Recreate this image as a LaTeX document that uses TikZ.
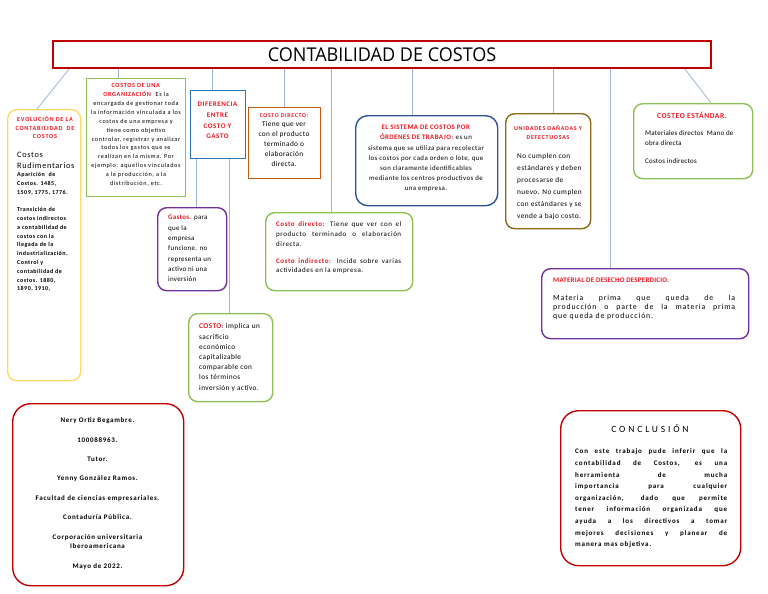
\documentclass[tikz,border=0pt]{standalone}
\usepackage{fontspec}
\setmainfont{Carlito}
\newfontfamily\titlefont[FakeStretch=0.95]{Open Sans}
\definecolor{ygold}{HTML}{FFD966}
\definecolor{lgreen}{HTML}{8DC153}
\definecolor{dblue}{HTML}{2E75B6}
\definecolor{borange}{HTML}{C55A11}
\definecolor{vpurple}{HTML}{7030A0}
\definecolor{sysblue}{HTML}{2F5496}
\definecolor{gbrown}{HTML}{8C6A1A}
\definecolor{dred}{HTML}{C00000}
\definecolor{linkc}{HTML}{9DB3D9}
\definecolor{tred}{HTML}{F0141E}
\newcommand{\J}[2]{\makebox[#1pt][s]{#2}}
\newcommand{\R}[1]{\textcolor{tred}{\textbf{#1}}}
\newcommand{\fs}[2]{\fontsize{#1}{#2}\selectfont}
\newcommand{\ls}[1]{\addfontfeature{LetterSpace=#1}}
\begin{document}
\begin{tikzpicture}[x=1pt,y=-1pt,
 link/.style={draw=linkc,line width=0.8pt},
 bx/.style={draw,anchor=north west,inner sep=0pt,line width=1.4pt},
 rbx/.style={bx,rounded corners=9pt},
 tl/.style={inner sep=0pt,anchor=north west,align=left},
 tc/.style={inner sep=0pt,anchor=north,align=center}]
\useasboundingbox (0,0) rectangle (768,594);
% boxes
\node[bx,draw=dred,line width=2.2pt,minimum width=658pt,minimum height=27pt,font=\titlefont\fontsize{19}{22}\selectfont] (title) at (52,40) {CONTABILIDAD DE COSTOS};
\node[rbx,draw=ygold,minimum width=73pt,minimum height=271pt] (evo) at (7,109) {};
\node[bx,draw=lgreen,minimum width=99pt,minimum height=118pt] (org) at (86,78) {};
\node[bx,draw=dblue,minimum width=55pt,minimum height=68pt] (dif) at (190,90) {};
\node[bx,draw=borange,minimum width=72pt,minimum height=71pt] (cdir) at (248,107) {};
\node[rbx,draw=vpurple,minimum width=69pt,minimum height=83pt] (gas) at (157,207) {};
\node[rbx,draw=lgreen,minimum width=84pt,minimum height=88pt] (cos) at (188,313) {};
\node[rbx,draw=lgreen,minimum width=147pt,minimum height=78pt] (cdi) at (265,212) {};
\node[rbx,draw=sysblue,rounded corners=12pt,minimum width=142pt,minimum height=90pt] (sis) at (355,115) {};
\node[rbx,draw=gbrown,minimum width=85pt,minimum height=115pt] (uni) at (505,113) {};
\node[rbx,draw=lgreen,minimum width=119pt,minimum height=75pt] (std) at (633,103) {};
\node[rbx,draw=vpurple,minimum width=207pt,minimum height=70pt] (mat) at (541,268) {};
\node[rbx,draw=dred,rounded corners=18pt,minimum width=171pt,minimum height=182pt] (nery) at (12,403) {};
\node[rbx,draw=dred,rounded corners=18pt,minimum width=180pt,minimum height=155pt] (conc) at (560,410) {};
% connectors
\draw[link] (title.south -| 69,0) -- (evo.north -| 37,0);
\draw[link] (title.south -| 118,0) -- (org.north -| 118,0);
\draw[link] (title.south -| 212,0) -- (dif.north -| 212,0);
\draw[link] (title.south -| 284,0) -- (cdir.north -| 284,0);
\draw[link] (title.south -| 331,0) -- (cdi.north -| 331,0);
\draw[link] (title.south -| 412,0) -- (sis.north -| 412,0);
\draw[link] (title.south -| 553,0) -- (uni.north -| 553,0);
\draw[link] (title.south -| 610,0) -- (mat.north -| 610,0);
\draw[link] (title.south -| 685,0) -- (std.north -| 711,0);
\draw[link] (dif.south -| 196,0) -- (gas.north -| 196,0);
\draw[link] (dif.south -| 229,0) -- (cos.north -| 229,0);
% texts
\node[tc,font=\fs{6.2}{8.6}\ls{12}\bfseries,text=tred] (evoh) at (45,115.4) {\strut EVOLUCIÓN DE LA\\CONTABILIDAD\ \ DE\\COSTOS};
\node[tl,font=\fs{8.3}{11}\ls{8}] (evoa) at (17,149.2) {\strut Costos\\Rudimentarios};
\node[tl,font=\fs{6}{8.8}\ls{8}\bfseries] (evob) at (17,170.2) {\strut Aparición\ \ de\\Costos. 1485,\\1509, 1775, 1776.\\[8.8pt]Transición de\\costos indirectos\\a contabilidad de\\costos con la\\llegada de la\\industrialización.\\Control y\\contabilidad de\\costos. 1880,\\1890, 1910,};
\node[tc,font=\fs{6.2}{8.9}\ls{10}] (orgt) at (136,81.2) {\strut\R{COSTOS DE UNA}\\\R{ORGANIZACIÓN}\ \ Es la\\encargada de gestionar toda\\la información vinculada a los\\costos de una empresa y\\tiene como objetivo\\controlar, registrar y analizar\\todos los gastos que se\\realizan en la misma. Por\\ejemplo: aquellos vinculados\\a la producción, a la\\distribución, etc.};
\node[tc,font=\fs{7}{10.7}\ls{8}\bfseries,text=tred] (dift) at (217.5,99.1) {\strut DIFERENCIA\\ENTRE\\COSTO Y\\GASTO};
\node[tc,font=\fs{5.8}{8}\ls{12}\bfseries,text=tred] (cdirh) at (284,111.7) {\strut COSTO DIRECTO:};
\node[tc,font=\fs{7.3}{10}\ls{5}] (cdirt) at (284,119.7) {\strut Tiene que ver\\con el producto\\terminado o\\elaboración\\directa.};
\node[tl,font=\fs{7}{10.3}\ls{4}] (gast) at (168,212.4) {\strut\R{Gastos.} para\\que la\\empresa\\funcione. no\\representa un\\activo ni una\\inversión};
\node[tl,font=\fs{7.3}{10.2}\ls{6}] (cost) at (199,321.5) {\strut\R{COSTO}: implica un\\sacrificio\\económico\\capitalizable\\comparable con\\los términos\\inversión y activo.};
\node[tl,font=\fs{7}{9.6}\ls{8}] (cdit) at (276,219.9) {\strut\J{125}{\R{Costo directo}: Tiene que ver con el}\\\J{125}{producto terminado o elaboración}\\directa.\\[7.5pt]\J{125}{\R{Costo indirecto}: Incide sobre varias}\\actividades en la empresa.};
\node[tc,font=\fs{6.9}{10.2}\ls{6}] (sist) at (426,122.45) {\strut\R{EL SISTEMA DE COSTOS POR}\\\R{ÓRDENES DE TRABAJO:} es un\\sistema que se utiliza para recolectar\\los costos por cada orden o lote, que\\son claramente identificables\\mediante los centros productivos de\\una empresa.};
\node[tc,font=\fs{6}{9}\ls{12}\bfseries,text=tred] (unih) at (548,124.1) {\strut UNIDADES DAÑADAS Y\\DEFECTUOSAS};
\node[tl,font=\fs{7.3}{12}\ls{6}] (unit) at (517,150.3) {\strut No cumplen con\\estándares y deben\\procesarse de\\nuevo. No cumplen\\con estándares y se\\vende a bajo costo.};
\node[tc,font=\fs{7.5}{9}\ls{8}\bfseries,text=tred] (stdh) at (692,112.4) {\strut COSTEO ESTÁNDAR.};
\node[tl,font=\fs{7}{10}\ls{3}] (stdt) at (645,128.6) {\strut Materiales directos\ \ Mano de\\obra directa\\[8pt]Costos indirectos};
\node[tl,font=\fs{7}{9}\ls{3}\bfseries,text=tred] (math) at (553,276.3) {\strut MATERIAL DE DESECHO DESPERDICIO.};
\node[tl,font=\fs{7.8}{9.3}\ls{11}] (matt) at (553,293.3) {\strut\J{182}{Materia prima que queda de la}\\\J{182}{producción o parte de la materia prima}\\que queda de producción.};
\node[tc,font=\fs{7}{9.7}\ls{10}\bfseries] (neryt) at (97.5,415.8) {\strut Nery Ortiz Begambre.\\[9.7pt]100088963.\\[9.7pt]Tutor.\\[9.7pt]Yenny González Ramos.\\[9.7pt]Facultad de ciencias empresariales.\\[9.7pt]Contaduría Pública.\\[9.7pt]Corporación universitaria\\Iberoamericana\\[9.7pt]Mayo de 2022.};
\node[tc,font=\fs{9.5}{10}\ls{30}] (conch) at (650,424.2) {\strut CONCLUSIÓN};
\node[tl,font=\fs{7}{11.6}\ls{12}\bfseries] (conct) at (575,445.5) {\strut\J{152}{Con este trabajo pude inferir que la}\\\J{152}{contabilidad de Costos, es una}\\\J{152}{herramienta de mucha}\\\J{152}{importancia para cualquier}\\\J{152}{organización, dado que permite}\\\J{152}{tener información organizada que}\\\J{152}{ayuda a los directivos a tomar}\\\J{152}{mejores decisiones y planear de}\\manera mas objetiva.};
\end{tikzpicture}
\end{document}
